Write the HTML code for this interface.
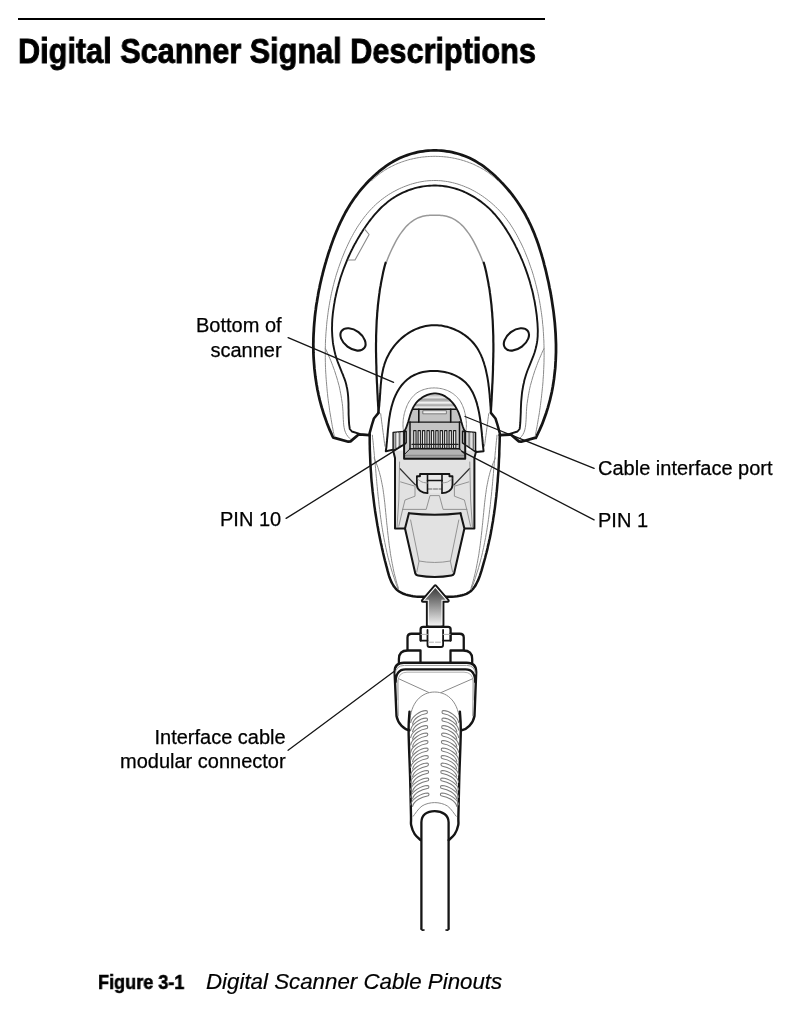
<!DOCTYPE html>
<html><head><meta charset="utf-8">
<style>
html,body{margin:0;padding:0;background:#fff;}
.lbl,.cap,.h1{will-change:transform;}
body{width:800px;height:1009px;position:relative;overflow:hidden;font-family:"Liberation Sans",sans-serif;color:#000;}
.rule{position:absolute;left:17.5px;top:17.5px;width:527.5px;height:2.5px;background:#000;}
.h1{position:absolute;left:17.6px;top:33.0px;transform:scaleX(0.876);-webkit-text-stroke:0.9px #000;white-space:nowrap;font-weight:bold;font-size:35px;line-height:1;transform-origin:0 0;}
.lbl{position:absolute;font-size:20px;-webkit-text-stroke:0.25px #000;line-height:1;white-space:nowrap;}
.r{text-align:right;}
svg{position:absolute;left:0;top:0;}
.cap{position:absolute;white-space:nowrap;line-height:1;}
</style></head><body>
<div class="rule"></div>
<div class="h1" id="h1">Digital Scanner Signal Descriptions</div>
<div class="lbl r" id="l1" style="right:518px;top:312.8px;line-height:25px;">Bottom of<br>scanner</div>
<div class="lbl" id="l2" style="left:598px;top:457.7px;">Cable interface port</div>
<div class="lbl" id="l3" style="left:598px;top:510.3px;">PIN 1</div>
<div class="lbl r" id="l4" style="right:519.2px;top:508.6px;">PIN 10</div>
<div class="lbl r" id="l5" style="right:514px;top:724.8px;line-height:24.4px;">Interface cable<br>modular connector</div>
<div class="cap" id="c1" style="left:98px;top:972.8px;font-weight:bold;font-size:19.5px;transform-origin:0 0;transform:scaleX(0.928);-webkit-text-stroke:0.55px #000;">Figure 3-1</div>
<div class="cap" id="c2" style="left:206px;top:970.6px;font-style:italic;font-size:22.3px;-webkit-text-stroke:0.2px #000;">Digital Scanner Cable Pinouts</div>
<svg width="800" height="1009" viewBox="0 0 800 1009" stroke-linejoin="round" stroke-linecap="round">
<defs><linearGradient id="ag" x1="0" y1="0" x2="0" y2="1"><stop offset="0" stop-color="#3c3c3c"/><stop offset="1" stop-color="#f2f2f2"/></linearGradient></defs>
<path d="M369.6 435.1 L358.6 434.5 L350.5 441.4 L348.3 441.7 L333.6 437.6 L333.3 437.7 L332.1 435.3 L331 432.8 L329.9 430.4 L328.9 427.9 L327.9 425.4 L326.9 422.9 L326 420.4 L325.1 417.8 L324.2 415.3 L323.4 412.8 L322.6 410.2 L321.8 407.7 L321.1 405.1 L320.4 402.5 L319.7 399.9 L319.1 397.3 L318.5 394.7 L318 392.1 L317.4 389.5 L317 386.9 L316.5 384.3 L316.1 381.6 L315.7 379 L315.3 376.3 L315 373.7 L314.7 371 L314.4 368.4 L314.2 365.7 L314 363.1 L313.8 360.4 L313.6 357.7 L313.5 355 L313.4 352.4 L313.4 349.7 L313.4 347 L313.3 344.3 L313.4 341.6 L313.4 338.9 L313.5 336.2 L313.6 333.6 L313.8 330.9 L313.9 328.2 L314.1 325.5 L314.3 322.8 L314.6 320.1 L314.8 317.4 L315.1 314.7 L315.4 312.1 L315.8 309.4 L316.1 306.7 L316.5 304 L317 301.4 L317.4 298.7 L317.9 296 L318.3 293.4 L318.8 290.7 L319.4 288.1 L319.9 285.4 L320.5 282.8 L321.1 280.2 L321.7 277.5 L322.4 274.9 L323 272.3 L323.7 269.7 L324.4 267.1 L325.1 264.5 L325.9 261.9 L326.6 259.3 L327.4 256.8 L328.2 254.2 L329 251.7 L329.9 249.1 L330.7 246.6 L331.6 244.1 L332.5 241.6 L333.4 239.1 L334.4 236.6 L335.4 234.1 L336.4 231.6 L337.4 229.2 L338.4 226.8 L339.5 224.4 L340.6 222 L341.8 219.6 L343 217.2 L344.2 214.9 L345.4 212.5 L346.7 210.2 L348.1 207.9 L349.4 205.7 L350.8 203.4 L352.3 201.2 L353.8 199 L355.4 196.8 L357 194.7 L358.6 192.5 L360.3 190.4 L362 188.4 L363.8 186.3 L365.6 184.3 L367.5 182.3 L369.4 180.3 L371.3 178.4 L373.3 176.5 L375.3 174.7 L377.4 172.9 L379.4 171.1 L381.6 169.4 L383.7 167.8 L385.9 166.2 L388.1 164.7 L390.4 163.2 L392.7 161.8 L395 160.5 L397.4 159.3 L399.8 158.1 L402.3 157 L404.8 156 L407.3 155.1 L409.8 154.3 L412.4 153.5 L415 152.8 L417.6 152.2 L420.2 151.7 L422.8 151.3 L425.5 150.9 L428.1 150.6 L430.8 150.5 L433.4 150.4 L436.1 150.4 L438.7 150.5 L441.4 150.6 L444 150.9 L446.7 151.3 L449.3 151.7 L451.9 152.2 L454.5 152.8 L457.1 153.5 L459.7 154.3 L462.2 155.1 L464.7 156 L467.2 157.1 L469.6 158.1 L472 159.3 L474.4 160.5 L476.7 161.9 L479 163.3 L481.2 164.7 L483.4 166.2 L485.5 167.8 L487.7 169.5 L489.7 171.2 L491.8 173 L493.8 174.8 L495.8 176.6 L497.7 178.5 L499.6 180.4 L501.5 182.4 L503.4 184.3 L505.2 186.3 L507 188.4 L508.8 190.5 L510.5 192.5 L512.2 194.7 L513.8 196.8 L515.4 199 L517 201.2 L518.5 203.4 L520 205.7 L521.4 207.9 L522.8 210.2 L524.2 212.5 L525.5 214.8 L526.7 217.2 L528 219.5 L529.1 221.9 L530.3 224.3 L531.4 226.7 L532.4 229.1 L533.5 231.6 L534.5 234 L535.4 236.5 L536.4 239 L537.3 241.5 L538.2 244 L539 246.5 L539.8 249.1 L540.6 251.6 L541.4 254.2 L542.1 256.7 L542.9 259.3 L543.6 261.9 L544.2 264.5 L544.9 267.1 L545.6 269.7 L546.2 272.3 L546.8 275 L547.4 277.6 L548 280.2 L548.6 282.8 L549.1 285.5 L549.6 288.1 L550.2 290.8 L550.7 293.4 L551.1 296.1 L551.6 298.8 L552 301.4 L552.4 304.1 L552.8 306.8 L553.2 309.4 L553.6 312.1 L553.9 314.8 L554.2 317.5 L554.5 320.2 L554.8 322.8 L555 325.5 L555.2 328.2 L555.4 330.9 L555.6 333.6 L555.7 336.3 L555.8 339 L555.9 341.6 L556 344.3 L556 347 L556 349.7 L556 352.4 L555.9 355 L555.8 357.7 L555.7 360.4 L555.5 363 L555.4 365.7 L555.2 368.4 L554.9 371 L554.6 373.7 L554.3 376.3 L554 379 L553.6 381.6 L553.2 384.2 L552.8 386.8 L552.3 389.5 L551.8 392.1 L551.2 394.7 L550.6 397.3 L550 399.9 L549.3 402.5 L548.6 405 L547.9 407.6 L547.1 410.2 L546.3 412.7 L545.4 415.3 L544.5 417.8 L543.6 420.3 L542.6 422.9 L541.6 425.4 L540.5 427.9 L539.4 430.4 L538.2 432.8 L537 435.3 L535.8 437.8 L535.8 437.6 L521.1 441.7 L518.9 441.4 L510.8 434.5 L499.8 435.1" fill="none" stroke="#151515" stroke-width="2.75" />
<path d="M371.2 181 L372.3 179.9 L373.5 178.9 L374.6 177.8 L375.8 176.8 L377 175.8 L378.2 174.8 L379.5 173.9 L380.7 172.9 L382 172 L383.3 171.2 L384.6 170.3 L385.9 169.5 L387.3 168.7 L388.6 167.9 L390 167.2 L391.4 166.5 L392.8 165.8 L394.2 165.1 L395.6 164.4 L397 163.8 L398.5 163.2 L399.9 162.7 L401.4 162.1 L402.9 161.6 L404.4 161.1 L405.9 160.6 L407.4 160.2 L408.9 159.7 L410.4 159.3 L412 159 L413.5 158.6 L415 158.3 L416.6 158 L418.1 157.7 L419.7 157.5 L421.3 157.2 L422.8 157 L424.4 156.9 L426 156.7 L427.6 156.6 L429.2 156.5 L430.7 156.4 L432.3 156.4 L433.9 156.3 L435.5 156.3 L437.1 156.4 L438.7 156.4 L440.2 156.5 L441.8 156.6 L443.4 156.7 L445 156.9 L446.6 157 L448.1 157.2 L449.7 157.5 L451.3 157.7 L452.8 158 L454.4 158.3 L455.9 158.6 L457.4 159 L459 159.3 L460.5 159.7 L462 160.2 L463.5 160.6 L465 161.1 L466.5 161.6 L468 162.1 L469.5 162.7 L470.9 163.2 L472.4 163.8 L473.8 164.4 L475.2 165.1 L476.6 165.8 L478 166.5 L479.4 167.2 L480.8 167.9 L482.1 168.7 L483.5 169.5 L484.8 170.3 L486.1 171.2 L487.4 172 L488.7 172.9 L489.9 173.9 L491.2 174.8 L492.4 175.8 L493.6 176.8 L494.8 177.8 L495.9 178.9 L497.1 179.9 L498.2 181" fill="none" stroke="#8a8a8a" stroke-width="1" />
<path d="M334.3 436.2 L333.8 433.8 L333.3 431.5 L332.9 429.1 L332.4 426.8 L332 424.4 L331.6 422.1 L331.2 419.7 L330.8 417.4 L330.4 415 L330 412.6 L329.6 410.3 L329.3 407.9 L329 405.5 L328.6 403.2 L328.3 400.8 L328 398.4 L327.7 396 L327.5 393.6 L327.2 391.2 L327 388.8 L326.8 386.5 L326.6 384.1 L326.4 381.7 L326.2 379.3 L326 376.9 L325.9 374.5 L325.7 372.1 L325.6 369.7 L325.5 367.3 L325.4 364.9 L325.4 362.5 L325.3 360.1 L325.3 357.7 L325.3 355.3 L325.3 352.9 L325.3 350.5 L325.3 348.1 L325.4 345.7 L325.4 343.3 L325.5 341 L325.6 338.6 L325.8 336.2 L325.9 333.8 L326.1 331.4 L326.3 329 L326.5 326.7 L326.7 324.3 L326.9 321.9 L327.2 319.6 L327.5 317.2 L327.8 314.8 L328.1 312.5 L328.4 310.1 L328.8 307.8 L329.2 305.4 L329.6 303.1 L330 300.7 L330.5 298.4 L330.9 296.1 L331.4 293.7 L331.9 291.4 L332.5 289.1 L333 286.8 L333.6 284.5 L334.2 282.2 L334.8 279.9 L335.5 277.6 L336.1 275.3 L336.8 273.1 L337.6 270.8 L338.3 268.5 L339.1 266.3 L339.9 264 L340.7 261.8 L341.5 259.5 L342.4 257.3 L343.3 255.1 L344.2 252.9 L345.1 250.7 L346.1 248.5 L347.1 246.3 L348.1 244.1 L349.2 241.9 L350.2 239.8 L351.3 237.6 L352.5 235.5 L353.6 233.4 L354.8 231.3 L356.1 229.2 L357.3 227.2 L358.6 225.2 L360 223.2 L361.3 221.2 L362.7 219.3 L364.2 217.3 L365.6 215.5 L367.2 213.6 L368.7 211.8 L370.3 210 L372 208.3 L373.6 206.6 L375.4 204.9 L377.1 203.3 L379 201.8 L380.8 200.2 L382.7 198.8 L384.7 197.3 L386.6 196 L388.6 194.6 L390.7 193.4 L392.8 192.1 L394.9 191 L397 189.9 L399.2 188.8 L401.4 187.8 L403.6 186.9 L405.9 186 L408.1 185.2 L410.4 184.4 L412.7 183.7 L415 183.1 L417.3 182.5 L419.7 182 L422 181.6 L424.3 181.2 L426.7 180.9 L429 180.7 L431.4 180.6 L433.7 180.5 L436.1 180.5 L438.4 180.6 L440.8 180.7 L443.1 181 L445.4 181.3 L447.7 181.6 L450 182.1 L452.3 182.6 L454.6 183.2 L456.9 183.8 L459.1 184.5 L461.3 185.3 L463.6 186.1 L465.7 187 L467.9 187.9 L470.1 188.9 L472.2 190 L474.3 191.1 L476.4 192.3 L478.4 193.5 L480.5 194.8 L482.4 196.1 L484.4 197.5 L486.3 198.9 L488.2 200.4 L490.1 201.9 L491.9 203.4 L493.7 205 L495.5 206.7 L497.2 208.4 L498.9 210.1 L500.5 211.8 L502.1 213.6 L503.7 215.5 L505.2 217.3 L506.6 219.2 L508.1 221.2 L509.5 223.1 L510.8 225.1 L512.1 227.1 L513.4 229.2 L514.6 231.2 L515.8 233.3 L517 235.4 L518.1 237.5 L519.2 239.7 L520.3 241.8 L521.4 244 L522.4 246.1 L523.4 248.3 L524.4 250.5 L525.3 252.7 L526.2 255 L527.1 257.2 L528 259.4 L528.8 261.7 L529.6 264 L530.4 266.2 L531.2 268.5 L532 270.8 L532.7 273.1 L533.4 275.3 L534 277.6 L534.7 279.9 L535.3 282.2 L535.9 284.6 L536.5 286.9 L537 289.2 L537.6 291.5 L538.1 293.8 L538.6 296.2 L539 298.5 L539.5 300.8 L539.9 303.2 L540.3 305.5 L540.7 307.9 L541 310.2 L541.4 312.6 L541.7 314.9 L542 317.3 L542.3 319.6 L542.5 322 L542.7 324.4 L543 326.7 L543.2 329.1 L543.3 331.5 L543.5 333.9 L543.6 336.2 L543.7 338.6 L543.9 341 L543.9 343.4 L544 345.8 L544 348.1 L544.1 350.5 L544.1 352.9 L544.1 355.3 L544.1 357.7 L544 360.1 L544 362.5 L543.9 364.9 L543.8 367.2 L543.7 369.6 L543.6 372 L543.5 374.4 L543.3 376.8 L543.1 379.2 L543 381.6 L542.8 384 L542.6 386.4 L542.3 388.8 L542.1 391.1 L541.8 393.5 L541.6 395.9 L541.3 398.3 L541 400.7 L540.7 403.1 L540.4 405.5 L540.1 407.8 L539.7 410.2 L539.4 412.6 L539 415 L538.6 417.3 L538.2 419.7 L537.8 422.1 L537.4 424.4 L537 426.8 L536.5 429.2 L536.1 431.5 L535.6 433.9 L535.2 436.2" fill="none" stroke="#8a8a8a" stroke-width="1" />
<path d="M325.4 348.6 L326.6 351 L327.7 353.4 L328.7 355.9 L329.8 358.3 L330.8 360.7 L331.8 363.2 L332.7 365.6 L333.6 368.1 L334.5 370.5 L335.3 373 L336.1 375.5 L336.9 378 L337.6 380.5 L338.3 383 L339 385.5 L339.6 388.1 L340.1 390.6 L340.6 393.2 L341.1 395.8 L341.5 398.4 L341.9 401 L342.3 403.6 L342.6 406.2 L342.8 408.9 L343 411.5 L343.1 414.2 L343.2 416.9 L343.3 419.6 L343.5 422.3 L343.7 424.9 L344.1 427.5 L344.6 429.9 L345.4 432.3 L346.5 434.5 L348 436.6 L349.9 438.5" fill="none" stroke="#8a8a8a" stroke-width="1" />
<path d="M544 348.6 L542.8 351 L541.7 353.4 L540.7 355.9 L539.6 358.3 L538.6 360.7 L537.6 363.2 L536.7 365.6 L535.8 368.1 L534.9 370.5 L534.1 373 L533.3 375.5 L532.5 378 L531.8 380.5 L531.1 383 L530.4 385.5 L529.8 388.1 L529.3 390.6 L528.8 393.2 L528.3 395.8 L527.9 398.4 L527.5 401 L527.1 403.6 L526.8 406.2 L526.6 408.9 L526.4 411.5 L526.3 414.2 L526.2 416.9 L526.1 419.6 L525.9 422.3 L525.7 424.9 L525.3 427.5 L524.8 429.9 L524 432.3 L522.9 434.5 L521.4 436.6 L519.5 438.5" fill="none" stroke="#8a8a8a" stroke-width="1" />
<path d="M369.6 435.3 L360.4 434.1 L351.9 431.5 L349.8 429 L349.8 429 L349.5 426.9 L349.2 424.8 L349 422.7 L348.9 420.6 L348.8 418.5 L348.7 416.3 L348.6 414.2 L348.6 412.1 L348.6 409.9 L348.5 407.8 L348.5 405.7 L348.5 403.5 L348.4 401.4 L348.3 399.3 L348.2 397.1 L348 395 L347.8 392.9 L347.5 390.8 L347.2 388.8 L346.7 386.7 L346.3 384.7 L345.7 382.6 L345.1 380.6 L344.4 378.6 L343.6 376.6 L342.9 374.6 L342 372.6 L341.2 370.7 L340.4 368.7 L339.6 366.7 L338.8 364.7 L338 362.7 L337.3 360.7 L336.6 358.7 L336 356.7 L335.4 354.7 L334.9 352.7 L334.4 350.6 L334 348.6 L333.6 346.5 L333.2 344.5 L332.9 342.4 L332.7 340.3 L332.5 338.2 L332.3 336.1 L332.2 334.1 L332.1 332 L332 329.9 L332 327.8 L332.1 325.7 L332.1 323.6 L332.2 321.5 L332.3 319.4 L332.5 317.2 L332.7 315.1 L332.9 313 L333.2 310.9 L333.5 308.8 L333.8 306.7 L334.1 304.6 L334.5 302.5 L334.8 300.5 L335.2 298.4 L335.7 296.3 L336.1 294.2 L336.6 292.2 L337.1 290.1 L337.6 288 L338.2 286 L338.7 283.9 L339.3 281.9 L339.9 279.9 L340.5 277.8 L341.2 275.8 L341.9 273.8 L342.6 271.8 L343.3 269.8 L344 267.8 L344.8 265.8 L345.6 263.8 L346.4 261.9 L347.2 259.9 L348 258 L348.9 256 L349.8 254.1 L350.7 252.2 L351.6 250.3 L352.6 248.4 L353.5 246.5 L354.5 244.6 L355.6 242.8 L356.6 240.9 L357.6 239.1 L358.7 237.2 L359.8 235.4 L360.9 233.6 L362.1 231.8 L363.2 230 L364.4 228.3 L365.6 226.5 L366.8 224.8 L368.1 223 L369.3 221.3 L370.6 219.6 L371.9 218 L373.2 216.3 L374.6 214.7 L376 213.1 L377.4 211.6 L378.9 210 L380.3 208.5 L381.8 207 L383.4 205.6 L385 204.2 L386.6 202.9 L388.2 201.5 L389.9 200.3 L391.6 199 L393.4 197.9 L395.2 196.7 L397 195.6 L398.9 194.6 L400.8 193.6 L402.7 192.7 L404.7 191.8 L406.7 191 L408.7 190.2 L410.7 189.5 L412.8 188.8 L414.8 188.2 L416.9 187.7 L419 187.2 L421.1 186.8 L423.2 186.4 L425.3 186.1 L427.4 185.9 L429.6 185.7 L431.7 185.6 L433.8 185.5 L435.9 185.5 L438 185.6 L440.1 185.7 L442.2 185.9 L444.3 186.2 L446.4 186.5 L448.5 186.9 L450.5 187.4 L452.6 187.9 L454.6 188.4 L456.6 189 L458.6 189.7 L460.6 190.4 L462.6 191.2 L464.5 192 L466.4 192.9 L468.3 193.8 L470.2 194.8 L472 195.8 L473.9 196.9 L475.7 198 L477.5 199.2 L479.2 200.4 L480.9 201.6 L482.6 202.9 L484.3 204.2 L485.9 205.6 L487.5 207 L489.1 208.4 L490.6 209.9 L492.1 211.4 L493.5 213 L495 214.5 L496.3 216.2 L497.7 217.8 L499 219.4 L500.3 221.1 L501.6 222.8 L502.8 224.6 L504 226.3 L505.2 228.1 L506.4 229.9 L507.5 231.7 L508.6 233.5 L509.7 235.3 L510.8 237.2 L511.8 239 L512.9 240.9 L513.9 242.8 L514.9 244.7 L515.8 246.6 L516.8 248.5 L517.7 250.4 L518.6 252.3 L519.5 254.2 L520.4 256.1 L521.2 258.1 L522.1 260 L522.9 262 L523.7 264 L524.4 265.9 L525.2 267.9 L525.9 269.9 L526.6 271.9 L527.3 273.9 L528 275.9 L528.6 277.9 L529.3 279.9 L529.9 281.9 L530.4 284 L531 286 L531.5 288 L532.1 290.1 L532.6 292.1 L533.1 294.2 L533.5 296.3 L533.9 298.3 L534.4 300.4 L534.8 302.5 L535.1 304.6 L535.5 306.7 L535.8 308.8 L536.1 310.9 L536.4 313 L536.7 315.1 L536.9 317.2 L537.1 319.3 L537.3 321.4 L537.5 323.6 L537.6 325.7 L537.7 327.8 L537.8 329.9 L537.8 332 L537.7 334.1 L537.7 336.2 L537.5 338.3 L537.3 340.4 L537 342.5 L536.6 344.6 L536.2 346.6 L535.7 348.6 L535.1 350.7 L534.5 352.7 L533.8 354.7 L533.1 356.7 L532.3 358.6 L531.5 360.6 L530.7 362.6 L529.9 364.6 L529.1 366.6 L528.3 368.5 L527.5 370.5 L526.8 372.5 L526.1 374.5 L525.5 376.6 L524.9 378.6 L524.3 380.6 L523.9 382.7 L523.4 384.7 L523 386.8 L522.7 388.8 L522.3 390.9 L522 393 L521.8 395.1 L521.6 397.2 L521.4 399.3 L521.2 401.4 L521.1 403.5 L521 405.7 L520.9 407.8 L520.8 409.9 L520.8 412.1 L520.7 414.2 L520.6 416.3 L520.5 418.4 L520.4 420.6 L520.3 422.7 L520.1 424.8 L519.9 426.9 L519.6 429 L519.6 429 L517.5 431.5 L509 434.1 L499.8 435.3" fill="none" stroke="#151515" stroke-width="1.9" />
<path d="M364.6 229.1 L369.1 234.5 L355 260 L348.2 260" fill="none" stroke="#8a8a8a" stroke-width="1.1" />
<ellipse cx="353" cy="339.4" rx="14.2" ry="9.1" transform="rotate(37 353 339.4)" fill="none" stroke="#151515" stroke-width="2.1"/>
<ellipse cx="516.4" cy="339.4" rx="14.2" ry="9.1" transform="rotate(-37 516.4 339.4)" fill="none" stroke="#151515" stroke-width="2.1"/>
<path d="M385.9 263.5 L387.3 259.8 L388.7 256.3 L390.1 253 L391.6 249.8 L393 246.9 L394.4 244.1 L395.8 241.4 L397.2 238.9 L398.6 236.6 L400 234.4 L401.5 232.4 L402.9 230.5 L404.3 228.7 L405.7 227.1 L407.1 225.6 L408.5 224.2 L409.9 223 L411.4 221.8 L412.8 220.8 L414.2 219.9 L415.6 219.1 L417 218.4 L418.4 217.7 L419.8 217.2 L421.3 216.7 L422.7 216.3 L424.1 216 L425.5 215.8 L426.9 215.6 L428.3 215.4 L429.7 215.3 L431.2 215.3 L432.6 215.2 L434 215.2 L435.4 215.2 L436.8 215.2 L438.2 215.3 L439.7 215.3 L441.1 215.4 L442.5 215.6 L443.9 215.8 L445.3 216 L446.7 216.3 L448.1 216.7 L449.6 217.2 L451 217.7 L452.4 218.4 L453.8 219.1 L455.2 219.9 L456.6 220.8 L458 221.8 L459.5 223 L460.9 224.2 L462.3 225.6 L463.7 227.1 L465.1 228.7 L466.5 230.5 L467.9 232.4 L469.4 234.4 L470.8 236.6 L472.2 238.9 L473.6 241.4 L475 244.1 L476.4 246.9 L477.8 249.8 L479.3 253 L480.7 256.3 L482.1 259.8 L483.5 263.5" fill="none" stroke="#999" stroke-width="1.5" />
<path d="M385.6 262.7 L384.9 265.2 L384.3 267.6 L383.7 270.1 L383.1 272.6 L382.6 275.1 L382.1 277.6 L381.6 280.1 L381.1 282.6 L380.7 285.2 L380.2 287.7 L379.8 290.2 L379.5 292.7 L379.1 295.3 L378.8 297.8 L378.5 300.3 L378.2 302.9 L377.9 305.4 L377.7 308 L377.5 310.5 L377.2 313.1 L377.1 315.6 L376.9 318.2 L376.7 320.7 L376.6 323.3 L376.5 325.8 L376.4 328.4 L376.3 331 L376.2 333.5 L376.1 336.1 L376.1 338.7 L376.1 341.2 L376 343.8 L376 346.4 L376 348.9 L376 351.5 L376.1 354.1 L376.1 356.6 L376.2 359.2 L376.2 361.8 L376.3 364.3 L376.4 366.9 L376.4 369.5 L376.5 372 L376.6 374.6 L376.7 377.2 L376.8 379.7 L376.9 382.3 L377.1 384.8 L377.2 387.4 L377.3 390 L377.4 392.5 L377.6 395.1 L377.7 397.6 L377.8 400.2 L378 402.7 L378.1 405.2 L378.3 407.8 L378.4 410.3 L378.5 412.9" fill="none" stroke="#151515" stroke-width="2.2" />
<path d="M483.8 262.7 L484.5 265.2 L485.1 267.6 L485.7 270.1 L486.3 272.6 L486.8 275.1 L487.3 277.6 L487.8 280.1 L488.3 282.6 L488.7 285.2 L489.2 287.7 L489.6 290.2 L489.9 292.7 L490.3 295.3 L490.6 297.8 L490.9 300.3 L491.2 302.9 L491.5 305.4 L491.7 308 L491.9 310.5 L492.2 313.1 L492.3 315.6 L492.5 318.2 L492.7 320.7 L492.8 323.3 L492.9 325.8 L493 328.4 L493.1 331 L493.2 333.5 L493.3 336.1 L493.3 338.7 L493.3 341.2 L493.4 343.8 L493.4 346.4 L493.4 348.9 L493.4 351.5 L493.3 354.1 L493.3 356.6 L493.2 359.2 L493.2 361.8 L493.1 364.3 L493 366.9 L493 369.5 L492.9 372 L492.8 374.6 L492.7 377.2 L492.6 379.7 L492.5 382.3 L492.3 384.8 L492.2 387.4 L492.1 390 L492 392.5 L491.8 395.1 L491.7 397.6 L491.6 400.2 L491.4 402.7 L491.3 405.2 L491.1 407.8 L491 410.3 L490.9 412.9" fill="none" stroke="#151515" stroke-width="2.2" />
<path d="M378.5 412.9 L373.9 418.5 L371.9 424.8 L369.5 433.6 L369.7 433.5 L369.7 436.1 L369.7 438.6 L369.7 441.2 L369.7 443.7 L369.8 446.2 L369.8 448.7 L369.9 451.3 L370 453.8 L370.1 456.3 L370.2 458.8 L370.3 461.3 L370.4 463.8 L370.6 466.3 L370.7 468.8 L370.9 471.3 L371.1 473.8 L371.2 476.3 L371.4 478.8 L371.6 481.3 L371.9 483.8 L372.1 486.3 L372.4 488.8 L372.6 491.2 L372.9 493.7 L373.2 496.2 L373.5 498.7 L373.8 501.1 L374.1 503.6 L374.4 506.1 L374.8 508.6 L375.1 511 L375.5 513.5 L375.9 516 L376.3 518.4 L376.7 520.9 L377.1 523.4 L377.5 525.8 L378 528.3 L378.4 530.8 L378.9 533.3 L379.4 535.7 L379.9 538.2 L380.4 540.7 L380.9 543.1 L381.5 545.6 L382 548.1 L382.6 550.6 L383.1 553 L383.7 555.5 L384.3 558 L384.9 560.5 L385.6 563 L386.2 565.4 L386.9 567.9 L387.5 570.4 L388.2 572.9 L388.9 575.4 L389.7 577.8 L390.6 580.1 L391.6 582.4 L392.8 584.5 L394 586.5 L395.5 588.3 L397.2 590 L399.1 591.5 L401.2 592.7 L403.5 593.8 L405.9 594.6 L408.3 595.3 L410.7 595.8 L413 596.2 L415.4 596.5 L417.9 596.7 L420.3 596.8 L422.8 596.8 L425.3 596.8 L427.8 596.8 L430.4 596.7 L433 596.7 L435.7 596.7 L438.4 596.7 L441.1 596.8 L443.8 596.8 L446.6 596.8 L449.3 596.8 L452 596.7 L454.6 596.5 L457.2 596.2 L459.7 595.8 L462.1 595.3 L464.3 594.6 L466.5 593.8 L468.5 592.7 L470.3 591.5 L471.9 590 L473.4 588.3 L474.8 586.5 L476 584.5 L477.1 582.3 L478.2 580.1 L479.1 577.8 L480 575.3 L480.8 572.9 L481.6 570.4 L482.3 567.9 L483 565.4 L483.7 562.9 L484.4 560.5 L485.1 558 L485.7 555.5 L486.4 553 L487 550.6 L487.6 548.1 L488.1 545.6 L488.7 543.1 L489.2 540.7 L489.8 538.2 L490.3 535.7 L490.8 533.3 L491.2 530.8 L491.7 528.3 L492.1 525.9 L492.5 523.4 L493 520.9 L493.3 518.4 L493.7 516 L494.1 513.5 L494.4 511 L494.8 508.6 L495.1 506.1 L495.4 503.6 L495.7 501.2 L496 498.7 L496.3 496.2 L496.5 493.7 L496.8 491.2 L497 488.8 L497.2 486.3 L497.4 483.8 L497.7 481.3 L497.8 478.8 L498 476.3 L498.2 473.8 L498.4 471.3 L498.5 468.8 L498.7 466.3 L498.8 463.8 L498.9 461.3 L499 458.8 L499.2 456.3 L499.3 453.8 L499.3 451.3 L499.4 448.7 L499.5 446.2 L499.6 443.7 L499.7 441.2 L499.7 438.6 L499.8 436.1 L499.8 433.5 L499.9 433.6 L497.5 424.8 L495.5 418.5 L490.9 412.9" fill="none" stroke="#151515" stroke-width="2.5" />
<path d="M378.3 412.8 L378.6 410.9 L378.8 409.1 L379.1 407.2 L379.3 405.4 L379.4 403.5 L379.6 401.5 L379.8 399.6 L379.9 397.6 L380 395.7 L380.2 393.7 L380.3 391.7 L380.4 389.7 L380.6 387.7 L380.7 385.7 L380.9 383.7 L381.1 381.7 L381.3 379.7 L381.6 377.7 L381.9 375.7 L382.2 373.7 L382.6 371.8 L383 369.8 L383.4 367.9 L384 366 L384.5 364.1 L385.2 362.2 L385.9 360.4 L386.6 358.5 L387.5 356.7 L388.4 355 L389.3 353.2 L390.3 351.6 L391.4 349.9 L392.5 348.3 L393.7 346.7 L394.9 345.1 L396.2 343.6 L397.5 342.2 L398.9 340.8 L400.3 339.4 L401.7 338.1 L403.2 336.9 L404.8 335.6 L406.4 334.5 L408 333.4 L409.6 332.4 L411.3 331.4 L413 330.5 L414.7 329.7 L416.5 328.9 L418.3 328.2 L420.1 327.5 L422 327 L423.8 326.5 L425.7 326.1 L427.6 325.7 L429.5 325.5 L431.4 325.3 L433.4 325.2 L435.3 325.2 L437.3 325.2 L439.2 325.4 L441.2 325.6 L443.2 326 L445.1 326.4 L447.1 326.8 L449 327.4 L450.9 328 L452.8 328.7 L454.7 329.5 L456.5 330.3 L458.3 331.2 L460.1 332.2 L461.8 333.2 L463.5 334.3 L465.1 335.4 L466.7 336.6 L468.3 337.9 L469.8 339.2 L471.2 340.6 L472.5 342 L473.8 343.5 L475.1 345.1 L476.2 346.6 L477.3 348.3 L478.3 349.9 L479.2 351.6 L480.1 353.4 L481 355.1 L481.7 356.9 L482.5 358.7 L483.1 360.6 L483.8 362.4 L484.3 364.3 L484.9 366.2 L485.4 368.1 L485.9 370 L486.3 372 L486.7 373.9 L487.1 375.8 L487.5 377.8 L487.8 379.7 L488.1 381.7 L488.4 383.7 L488.6 385.6 L488.9 387.6 L489.1 389.6 L489.3 391.6 L489.5 393.5 L489.7 395.5 L489.8 397.4 L490 399.4 L490.1 401.3 L490.3 403.3 L490.4 405.2 L490.6 407.1 L490.7 409 L490.9 410.9 L491 412.8" fill="none" stroke="#151515" stroke-width="2" />
<path d="M372.4 435.2 L372.6 437.8 L372.9 440.3 L373.2 442.9 L373.4 445.4 L373.7 448 L373.9 450.5 L374.2 453.1 L374.4 455.6 L374.6 458.2 L374.9 460.8 L375.1 463.3 L375.3 465.9 L375.6 468.5 L375.8 471 L376 473.6 L376.2 476.2 L376.5 478.7 L376.7 481.3 L376.9 483.9 L377.2 486.4 L377.4 489 L377.7 491.6 L377.9 494.1 L378.2 496.7 L378.5 499.2 L378.8 501.8 L379 504.4 L379.3 506.9 L379.7 509.5 L380 512 L380.3 514.6 L380.6 517.1 L381 519.7 L381.3 522.2 L381.7 524.8 L382.1 527.3 L382.5 529.9 L382.9 532.4 L383.4 534.9 L383.8 537.5 L384.3 540 L384.8 542.5 L385.3 545 L385.8 547.5 L386.4 550.1 L386.9 552.6 L387.5 555.1 L388.1 557.6 L388.8 560.1 L389.4 562.5 L390.1 565 L390.8 567.5 L391.5 570 L392.3 572.4 L393.1 574.9 L393.9 577.4 L394.7 579.8 L395.6 582.3 L396.4 584.7 L397.4 587.1 L398.3 589.5" fill="none" stroke="#8a8a8a" stroke-width="1" />
<path d="M497 435.2 L496.8 437.8 L496.5 440.3 L496.2 442.9 L496 445.4 L495.7 448 L495.5 450.5 L495.2 453.1 L495 455.6 L494.8 458.2 L494.5 460.8 L494.3 463.3 L494.1 465.9 L493.8 468.5 L493.6 471 L493.4 473.6 L493.2 476.2 L492.9 478.7 L492.7 481.3 L492.5 483.9 L492.2 486.4 L492 489 L491.7 491.6 L491.5 494.1 L491.2 496.7 L490.9 499.2 L490.6 501.8 L490.4 504.4 L490.1 506.9 L489.7 509.5 L489.4 512 L489.1 514.6 L488.8 517.1 L488.4 519.7 L488.1 522.2 L487.7 524.8 L487.3 527.3 L486.9 529.9 L486.5 532.4 L486 534.9 L485.6 537.5 L485.1 540 L484.6 542.5 L484.1 545 L483.6 547.5 L483 550.1 L482.5 552.6 L481.9 555.1 L481.3 557.6 L480.6 560.1 L480 562.5 L479.3 565 L478.6 567.5 L477.9 570 L477.1 572.4 L476.3 574.9 L475.5 577.4 L474.7 579.8 L473.8 582.3 L473 584.7 L472 587.1 L471.1 589.5" fill="none" stroke="#8a8a8a" stroke-width="1" />
<path d="M374.1 458 L375.1 460.3 L376.1 462.7 L377 465.1 L377.9 467.5 L378.6 469.9 L379.4 472.3 L380 474.8 L380.7 477.3 L381.2 479.7 L381.7 482.2 L382.2 484.7 L382.7 487.2 L383.1 489.7 L383.4 492.2 L383.8 494.7 L384.1 497.3 L384.4 499.8 L384.7 502.3 L385 504.9 L385.2 507.4 L385.5 510 L385.7 512.5 L386 515.1 L386.2 517.6 L386.5 520.2 L386.7 522.8 L387 525.3 L387.3 527.9 L387.5 530.4 L387.8 533 L388.1 535.5 L388.4 538.1 L388.7 540.6 L389 543.2 L389.3 545.7 L389.7 548.3 L390.1 550.8 L390.4 553.3 L390.8 555.9 L391.3 558.4 L391.7 560.9 L392.2 563.4 L392.7 565.9 L393.2 568.5 L393.7 571 L394.3 573.4 L394.9 575.9 L395.6 578.4 L396.2 580.9 L396.9 583.4 L397.7 585.8 L398.4 588.3" fill="none" stroke="#8a8a8a" stroke-width="1" />
<path d="M495.3 458 L494.3 460.3 L493.3 462.7 L492.4 465.1 L491.5 467.5 L490.8 469.9 L490 472.3 L489.4 474.8 L488.7 477.3 L488.2 479.7 L487.7 482.2 L487.2 484.7 L486.7 487.2 L486.3 489.7 L486 492.2 L485.6 494.7 L485.3 497.3 L485 499.8 L484.7 502.3 L484.4 504.9 L484.2 507.4 L483.9 510 L483.7 512.5 L483.4 515.1 L483.2 517.6 L482.9 520.2 L482.7 522.8 L482.4 525.3 L482.1 527.9 L481.9 530.4 L481.6 533 L481.3 535.5 L481 538.1 L480.7 540.6 L480.4 543.2 L480.1 545.7 L479.7 548.3 L479.3 550.8 L479 553.3 L478.6 555.9 L478.1 558.4 L477.7 560.9 L477.2 563.4 L476.7 565.9 L476.2 568.5 L475.7 571 L475.1 573.4 L474.5 575.9 L473.8 578.4 L473.2 580.9 L472.5 583.4 L471.7 585.8 L471 588.3" fill="none" stroke="#8a8a8a" stroke-width="1" />
<path d="M380.7 413.7 L381 416.4 L381.4 419.1 L381.7 421.9 L382.1 424.6 L382.4 427.3 L382.8 430 L383.1 432.7 L383.5 435.4 L383.9 438.2 L384.2 440.9 L384.6 443.6 L385 446.3" fill="none" stroke="#8a8a8a" stroke-width="1" />
<path d="M488.7 413.7 L488.4 416.4 L488 419.1 L487.7 421.9 L487.3 424.6 L487 427.3 L486.6 430 L486.3 432.7 L485.9 435.4 L485.5 438.2 L485.2 440.9 L484.8 443.6 L484.4 446.3" fill="none" stroke="#8a8a8a" stroke-width="1" />
<path d="M393.2 449.6 L385.9 451.3  L385.8 451.2 L386 449.5 L386.3 447.8 L386.5 446.1 L386.6 444.4 L386.8 442.6 L387 440.9 L387.1 439.1 L387.3 437.3 L387.5 435.6 L387.6 433.8 L387.8 432 L387.9 430.2 L388.1 428.4 L388.3 426.6 L388.5 424.8 L388.7 422.9 L388.9 421.1 L389.1 419.3 L389.4 417.5 L389.7 415.8 L390 414 L390.3 412.2 L390.7 410.4 L391.1 408.7 L391.5 406.9 L392 405.2 L392.5 403.5 L393 401.8 L393.6 400.1 L394.2 398.4 L394.9 396.8 L395.6 395.2 L396.4 393.6 L397.2 392 L398.1 390.5 L399 389 L400 387.5 L401 386.1 L402.1 384.7 L403.3 383.4 L404.5 382.1 L405.7 380.9 L407 379.8 L408.3 378.7 L409.8 377.6 L411.2 376.7 L412.7 375.8 L414.3 375 L415.9 374.3 L417.6 373.6 L419.3 373 L421 372.5 L422.8 372.1 L424.6 371.7 L426.4 371.4 L428.2 371.2 L430.1 371 L431.9 370.9 L433.8 370.9 L435.6 370.9 L437.5 371 L439.3 371.2 L441.1 371.4 L443 371.7 L444.7 372 L446.5 372.4 L448.3 372.9 L450 373.4 L451.7 374 L453.3 374.7 L455 375.4 L456.5 376.1 L458.1 377 L459.6 377.9 L461 378.8 L462.4 379.9 L463.8 381 L465 382.1 L466.3 383.3 L467.4 384.6 L468.5 385.9 L469.6 387.3 L470.5 388.7 L471.4 390.2 L472.3 391.7 L473.1 393.3 L473.8 394.9 L474.5 396.6 L475.2 398.3 L475.8 400 L476.3 401.7 L476.9 403.4 L477.3 405.2 L477.8 407 L478.2 408.8 L478.6 410.6 L479 412.4 L479.3 414.2 L479.6 415.9 L479.9 417.7 L480.2 419.5 L480.4 421.3 L480.7 423.1 L480.9 424.8 L481.1 426.6 L481.3 428.4 L481.5 430.1 L481.7 431.9 L481.9 433.7 L482 435.4 L482.2 437.2 L482.4 439 L482.5 440.7 L482.7 442.5 L482.8 444.2 L483 446 L483.2 447.7 L483.4 449.5 L483.6 451.2 L476.2 451.90000000000003" fill="none" stroke="#151515" stroke-width="2" />
<path d="M403.6 431.2 L403.4 429.9 L403.2 428.6 L403.1 427.3 L403 426 L403 424.6 L403 423.3 L403.1 421.9 L403.2 420.5 L403.3 419.2 L403.5 417.8 L403.8 416.4 L404 415 L404.3 413.7 L404.7 412.3 L405.1 410.9 L405.5 409.6 L406 408.3 L406.5 407 L407 405.7 L407.6 404.4 L408.2 403.2 L408.9 402 L409.6 400.8 L410.4 399.7 L411.2 398.6 L412 397.5 L412.9 396.5 L413.8 395.5 L414.8 394.6 L415.8 393.7 L416.9 392.9 L418 392.2 L419.2 391.5 L420.4 390.9 L421.7 390.3 L423 389.8 L424.3 389.4 L425.7 389 L427 388.7 L428.4 388.4 L429.9 388.2 L431.3 388 L432.7 388 L434.1 387.9 L435.5 388 L436.9 388 L438.3 388.2 L439.7 388.4 L441.1 388.6 L442.4 388.9 L443.7 389.3 L445 389.7 L446.3 390.1 L447.6 390.6 L448.8 391.2 L450 391.8 L451.2 392.5 L452.3 393.2 L453.4 393.9 L454.4 394.8 L455.5 395.6 L456.4 396.5 L457.4 397.5 L458.2 398.5 L459.1 399.5 L459.9 400.6 L460.6 401.8 L461.3 403 L461.9 404.2 L462.5 405.5 L463 406.8 L463.5 408.1 L464 409.4 L464.4 410.8 L464.7 412.2 L465.1 413.6 L465.4 415 L465.6 416.4 L465.9 417.8 L466 419.2 L466.2 420.6 L466.3 422 L466.4 423.4 L466.4 424.7 L466.4 426 L466.3 427.4 L466.2 428.7 L466 429.9 L465.8 431.2" fill="none" stroke="#8a8a8a" stroke-width="1" />
<path d="M395 450.5 L395 528.5 L405 528.5 L408.8 513.4 L435 514.6 L460.6 513.4 L464.4 528.5 L474.4 528.5 L474.4 450.5Z" fill="#e2e2e2" stroke="none" stroke-width="0" />
<rect x="404.4" y="431" width="60.6" height="27.8" fill="#cccccc" stroke="none"/><rect x="409" y="421.5" width="51.5" height="10" fill="#cccccc" stroke="none"/>
<path d="M404.5 431.2 L405.2 429.7 L406 428.2 L406.6 426.5 L407.2 424.9 L407.7 423.2 L408.3 421.5 L408.8 419.8 L409.3 418.1 L409.8 416.3 L410.3 414.6 L410.9 412.9 L411.5 411.2 L412.2 409.6 L412.9 408 L413.8 406.4 L414.7 404.9 L415.7 403.4 L416.9 402 L418.2 400.7 L419.5 399.5 L421 398.4 L422.5 397.3 L424.1 396.4 L425.7 395.6 L427.3 394.9 L429 394.3 L430.7 393.9 L432.4 393.6 L434.1 393.4 L435.8 393.4 L437.5 393.6 L439.1 393.9 L440.7 394.3 L442.3 394.9 L443.8 395.6 L445.3 396.4 L446.7 397.4 L448.1 398.4 L449.5 399.5 L450.8 400.8 L452 402.1 L453.1 403.4 L454.2 404.9 L455.3 406.4 L456.2 408 L457.1 409.6 L457.9 411.2 L458.7 412.9 L459.3 414.6 L459.9 416.3 L460.4 418 L460.9 419.8 L461.3 421.5 L461.8 423.2 L462.3 424.9 L462.8 426.5 L463.4 428.1 L464 429.7 L464.8 431.2 Z" fill="#c4c4c4" stroke="none" stroke-width="0" />
<clipPath id="opc"><path d="M404.5 431.2 L405.2 429.7 L406 428.2 L406.6 426.5 L407.2 424.9 L407.7 423.2 L408.3 421.5 L408.8 419.8 L409.3 418.1 L409.8 416.3 L410.3 414.6 L410.9 412.9 L411.5 411.2 L412.2 409.6 L412.9 408 L413.8 406.4 L414.7 404.9 L415.7 403.4 L416.9 402 L418.2 400.7 L419.5 399.5 L421 398.4 L422.5 397.3 L424.1 396.4 L425.7 395.6 L427.3 394.9 L429 394.3 L430.7 393.9 L432.4 393.6 L434.1 393.4 L435.8 393.4 L437.5 393.6 L439.1 393.9 L440.7 394.3 L442.3 394.9 L443.8 395.6 L445.3 396.4 L446.7 397.4 L448.1 398.4 L449.5 399.5 L450.8 400.8 L452 402.1 L453.1 403.4 L454.2 404.9 L455.3 406.4 L456.2 408 L457.1 409.6 L457.9 411.2 L458.7 412.9 L459.3 414.6 L459.9 416.3 L460.4 418 L460.9 419.8 L461.3 421.5 L461.8 423.2 L462.3 424.9 L462.8 426.5 L463.4 428.1 L464 429.7 L464.8 431.2 Z"/></clipPath>
<g clip-path="url(#opc)"><rect x="400" y="396.5" width="70" height="1.3" fill="#eeeeee"/><rect x="400" y="399.3" width="70" height="1.2" fill="#9a9a9a"/><rect x="400" y="401.8" width="70" height="1.8" fill="#f0f0f0"/><rect x="400" y="404.6" width="70" height="1.1" fill="#a8a8a8"/><rect x="400" y="406.5" width="70" height="2" fill="#e8e8e8"/></g>
<rect x="413.7" y="430.6" width="2.3" height="17.6" fill="#eeeeee" stroke="#1e1e1e" stroke-width="1.05"/><rect x="418.1" y="430.6" width="2.3" height="17.6" fill="#eeeeee" stroke="#1e1e1e" stroke-width="1.05"/><rect x="422.5" y="430.6" width="2.3" height="17.6" fill="#eeeeee" stroke="#1e1e1e" stroke-width="1.05"/><rect x="427" y="430.6" width="2.3" height="17.6" fill="#eeeeee" stroke="#1e1e1e" stroke-width="1.05"/><rect x="431.4" y="430.6" width="2.3" height="17.6" fill="#eeeeee" stroke="#1e1e1e" stroke-width="1.05"/><rect x="435.8" y="430.6" width="2.3" height="17.6" fill="#eeeeee" stroke="#1e1e1e" stroke-width="1.05"/><rect x="440.2" y="430.6" width="2.3" height="17.6" fill="#eeeeee" stroke="#1e1e1e" stroke-width="1.05"/><rect x="444.6" y="430.6" width="2.3" height="17.6" fill="#eeeeee" stroke="#1e1e1e" stroke-width="1.05"/><rect x="449.1" y="430.6" width="2.3" height="17.6" fill="#eeeeee" stroke="#1e1e1e" stroke-width="1.05"/><rect x="453.5" y="430.6" width="2.3" height="17.6" fill="#eeeeee" stroke="#1e1e1e" stroke-width="1.05"/>
<path d="M412 444.4 L458 444.4" fill="none" stroke="#222" stroke-width="1.2" />
<path d="M410 448.75 L459.5 448.75 L465 455.3 L404.4 455.3 Z" fill="#b4b4b4" stroke="none"/>
<rect x="404.4" y="455.3" width="60.6" height="3.5" fill="#a8a8a8"/>
<path d="M404.5 431.2 L405.2 429.7 L406 428.2 L406.6 426.5 L407.2 424.9 L407.7 423.2 L408.3 421.5 L408.8 419.8 L409.3 418.1 L409.8 416.3 L410.3 414.6 L410.9 412.9 L411.5 411.2 L412.2 409.6 L412.9 408 L413.8 406.4 L414.7 404.9 L415.7 403.4 L416.9 402 L418.2 400.7 L419.5 399.5 L421 398.4 L422.5 397.3 L424.1 396.4 L425.7 395.6 L427.3 394.9 L429 394.3 L430.7 393.9 L432.4 393.6 L434.1 393.4 L435.8 393.4 L437.5 393.6 L439.1 393.9 L440.7 394.3 L442.3 394.9 L443.8 395.6 L445.3 396.4 L446.7 397.4 L448.1 398.4 L449.5 399.5 L450.8 400.8 L452 402.1 L453.1 403.4 L454.2 404.9 L455.3 406.4 L456.2 408 L457.1 409.6 L457.9 411.2 L458.7 412.9 L459.3 414.6 L459.9 416.3 L460.4 418 L460.9 419.8 L461.3 421.5 L461.8 423.2 L462.3 424.9 L462.8 426.5 L463.4 428.1 L464 429.7 L464.8 431.2" fill="none" stroke="#151515" stroke-width="1.8" />
<path d="M413 409.2 L456 409.2" fill="none" stroke="#151515" stroke-width="1.4" />
<path d="M418.8 409.2 L418.8 422.1" fill="none" stroke="#151515" stroke-width="1.6" />
<path d="M450.7 409.2 L450.7 422.1" fill="none" stroke="#151515" stroke-width="1.6" />
<rect x="423.2" y="410.7" width="23.2" height="3.1" fill="#eeeeee" stroke="#666" stroke-width="0.8"/>
<path d="M409.2 422.1 L460.4 422.1" fill="none" stroke="#151515" stroke-width="1.4" />
<path d="M410 422.1 L410 448.8" fill="none" stroke="#151515" stroke-width="1.5" />
<path d="M459.5 422.1 L459.5 448.8" fill="none" stroke="#151515" stroke-width="1.5" />
<path d="M410 448.8 L459.5 448.8" fill="none" stroke="#151515" stroke-width="1.5" />
<path d="M410 448.8 L404.4 454.5" fill="none" stroke="#151515" stroke-width="1" />
<path d="M459.5 448.8 L465 454.5" fill="none" stroke="#151515" stroke-width="1" />
<path d="M404.4 455.3 L465 455.3" fill="none" stroke="#777" stroke-width="0.8" />
<path d="M393.1 432.4 L406.2 431.2 L406.2 442.9 L393.1 450.6 Z" fill="#c4c4c4" stroke="#151515" stroke-width="1.4"/><line x1="395.3" y1="433.2" x2="395.3" y2="448.3" stroke="#666" stroke-width="1"/><line x1="397.5" y1="433" x2="397.5" y2="447" stroke="#f2f2f2" stroke-width="1"/><line x1="399.7" y1="432.8" x2="399.7" y2="445.8" stroke="#666" stroke-width="1"/><line x1="401.9" y1="432.6" x2="401.9" y2="444.5" stroke="#f2f2f2" stroke-width="1"/><line x1="404.1" y1="432.4" x2="404.1" y2="443.2" stroke="#666" stroke-width="1"/>
<path d="M462.5 431.2 L475.6 432.4 L475.6 451.9 L462.5 442.9 Z" fill="#c4c4c4" stroke="#151515" stroke-width="1.4"/><line x1="464.7" y1="432.4" x2="464.7" y2="443.4" stroke="#666" stroke-width="1"/><line x1="466.9" y1="432.6" x2="466.9" y2="444.9" stroke="#f2f2f2" stroke-width="1"/><line x1="469.1" y1="432.8" x2="469.1" y2="446.4" stroke="#666" stroke-width="1"/><line x1="471.2" y1="433" x2="471.2" y2="447.9" stroke="#f2f2f2" stroke-width="1"/><line x1="473.4" y1="433.2" x2="473.4" y2="449.4" stroke="#666" stroke-width="1"/>
<path d="M404.1 431.2 L404.1 458.8 L465.2 458.8 L465.2 431.2" fill="none" stroke="#151515" stroke-width="2" />
<path d="M393.4 451.5 L395 458 L395 528.5 L405 528.5" fill="none" stroke="#151515" stroke-width="2" />
<path d="M476 451.5 L474.4 458 L474.4 528.5 L464.4 528.5" fill="none" stroke="#151515" stroke-width="2" />
<path d="M408.9 513.2 L405 528.5 L415.3 573.5 Q416 575.2 418 575.6 Q434.7 578.6 451.4 575.6 Q453.4 575.2 454.1 573.5 L464.4 528.5 L460.5 513.2 Q434.7 516.2 408.9 513.2 Z" fill="#e2e2e2" stroke="none" stroke-width="0" />
<path d="M408.9 513.2 L405 528.5 L415.3 573.5 Q416 575.2 418 575.6 Q434.7 578.6 451.4 575.6 Q453.4 575.2 454.1 573.5 L464.4 528.5 L460.5 513.2" fill="none" stroke="#151515" stroke-width="2.05" />
<path d="M408.9 513.2 Q434.7 516.2 460.5 513.2" fill="none" stroke="#151515" stroke-width="2.1" />
<path d="M410.6 520 L419 561.3 L416.8 572" fill="none" stroke="#8a8a8a" stroke-width="0.9" />
<path d="M458.8 520 L450.4 561.3 L452.6 572" fill="none" stroke="#8a8a8a" stroke-width="0.9" />
<path d="M419 561 Q434.7 564 450.4 561" fill="none" stroke="#8a8a8a" stroke-width="0.9" />
<path d="M399.8 468.5 L415.5 485" fill="none" stroke="#333" stroke-width="1.15" />
<path d="M469.6 468.5 L453.9 485" fill="none" stroke="#333" stroke-width="1.15" />
<path d="M399.6 462 L398.8 500 L397 527" fill="none" stroke="#8a8a8a" stroke-width="0.9" />
<path d="M469.8 462 L470.6 500 L472.4 527" fill="none" stroke="#8a8a8a" stroke-width="0.9" />
<path d="M415 486.9 L415 496.2 L405 500 L402.5 510 L398.8 526.2" fill="none" stroke="#8a8a8a" stroke-width="0.9" />
<path d="M454.4 486.9 L454.4 496.2 L464.4 500 L466.9 510 L470.6 526.2" fill="none" stroke="#8a8a8a" stroke-width="0.9" />
<path d="M402.5 509.4 L426.2 509.4 L430 495.6 L439.4 495.6 L443.1 509.4 L466.9 509.4" fill="none" stroke="#8a8a8a" stroke-width="0.9" />
<path d="M400.6 481.9 L415 486.2" fill="none" stroke="#8a8a8a" stroke-width="0.9" />
<path d="M468.8 481.9 L454.4 486.2" fill="none" stroke="#8a8a8a" stroke-width="0.9" />
<path d="M416.9 476.25 L420 476.25 L420 474 L449.4 474 L449.4 476.25 L452.5 476.25 L452.5 485 C452.5 490 447 493 442.5 493.1 L427 493.1 C422.5 493 416.9 490 416.9 485 Z" fill="#e8e8e8" stroke="none" stroke-width="0" />
<path d="M427.5 493.1 C422.5 493 416.9 490 416.9 485 L416.9 476.25 L420 476.25 L420 474 L449.4 474 L449.4 476.25 L452.5 476.25 L452.5 485 C452.5 490 447 493 442 493.1" fill="none" stroke="#151515" stroke-width="1.8" />
<path d="M428 489 L441.5 489" fill="none" stroke="#555" stroke-width="0.9" stroke-dasharray="4 1.5"/>
<path d="M427.5 474 L427.5 493" fill="none" stroke="#151515" stroke-width="1.6" />
<path d="M442 474 L442 493" fill="none" stroke="#151515" stroke-width="1.6" />
<path d="M427.5 480.5 L442 480.5" fill="none" stroke="#151515" stroke-width="1.5" />
<path d="M417.5 479 C418.2 479.5 420.3 481.3 422 482 C423.7 482.7 426.6 482.8 427.5 483" fill="none" stroke="#8a8a8a" stroke-width="0.8" />
<path d="M452 479 C451.2 479.5 449.2 481.3 447.5 482 C445.8 482.7 442.9 482.8 442 483" fill="none" stroke="#8a8a8a" stroke-width="0.8" />
<path d="M435.3 586.3 L447.8 600.8 L442.5 600.8 L442.5 625.5 L427.8 625.5 L427.8 600.8 L422.8 600.8 Z" fill="#151515" stroke="#151515" stroke-width="3.8" />
<path d="M435.3 586.3 L447.8 600.8 L442.5 600.8 L442.5 625.5 L427.8 625.5 L427.8 600.8 L422.8 600.8 Z" fill="#fff" stroke="none" stroke-width="0" />
<path d="M435.3 587.9 L445.6 599.8 L441.5 599.8 L441.5 625.5 L428.8 625.5 L428.8 599.8 L425 599.8 Z" fill="url(#ag)" stroke="none" stroke-width="0" />
<path d="M420.6 640.5 L420.6 629.5 Q420.6 626.9 423.2 626.9 L448 626.9 Q450.6 626.9 450.6 629.5 L450.6 640.5" fill="#fff" stroke="#151515" stroke-width="2.3" />
<path d="M407.5 650 L407.5 637.5 Q407.5 633.75 411.5 633.75 L420.6 633.75 M450.6 633.75 L459.75 633.75 Q463.75 633.75 463.75 637.5 L463.75 650" fill="none" stroke="#151515" stroke-width="2.3" />
<path d="M420.6 633.8 L420.6 640.6 L427.5 640.6" fill="none" stroke="#151515" stroke-width="1.6" />
<path d="M450.6 633.8 L450.6 640.6 L443.1 640.6" fill="none" stroke="#151515" stroke-width="1.6" />
<path d="M427.5 630 L427.5 645 Q427.5 647 429.5 647 L441.1 647 Q443.1 647 443.1 645 L443.1 630" fill="none" stroke="#151515" stroke-width="1.8" />
<path d="M421 634.4 L427.5 634.4" fill="none" stroke="#b0b0b0" stroke-width="1" />
<path d="M443.1 634.4 L450.2 634.4" fill="none" stroke="#b0b0b0" stroke-width="1" />
<path d="M428.5 642.2 L442 642.2" fill="none" stroke="#b0b0b0" stroke-width="1" stroke-dasharray="5 2"/>
<path d="M398.9 663 L398.9 659 Q398.9 650.5 407.6 650.5 L420.5 650.5 L420.5 662.5 M450.5 662.5 L450.5 650.5 L463.3 650.5 Q472.2 650.5 472.2 659 L472.2 663" fill="none" stroke="#151515" stroke-width="2.3" />
<path d="M409.5 730.3 C404.3 729.6 398 724 396.5 716 L394.6 672 Q394.6 662.8 404 662.8 L466.6 662.8 Q476.2 662.8 476.2 672 L474.5 716 C473 724 466.6 729.6 461.7 730.3" fill="none" stroke="#151515" stroke-width="2.4" />
<path d="M395.6 682 Q395.8 669.3 405.5 669.3 L465.5 669.3 Q475.2 669.3 475.2 682" fill="none" stroke="#151515" stroke-width="2.3" />
<path d="M395.3 674 Q395.8 665.4 404.5 665.4 L466.5 665.4 Q475.2 665.4 475.4 674" fill="none" stroke="#999" stroke-width="1" />
<path d="M397.9 700 L397.9 682 Q398.2 672.2 407 672.2 L464 672.2 Q472.9 672.2 473.2 682 L473.2 700" fill="none" stroke="#b0b0b0" stroke-width="1" />
<path d="M398.8 678.8 L428.8 692.5" fill="none" stroke="#8a8a8a" stroke-width="1" />
<path d="M472.5 678.8 L441.2 692.5" fill="none" stroke="#8a8a8a" stroke-width="1" />
<path d="M397.8 680 L398.5 716" fill="none" stroke="#b0b0b0" stroke-width="1" />
<path d="M473.2 680 L472.5 716" fill="none" stroke="#b0b0b0" stroke-width="1" />
<path d="M409.8 722 C410.5 703 421 692 434.7 692 C448.4 692 459 703 459.6 722" fill="none" stroke="#8a8a8a" stroke-width="1" />
<path d="M409.5 711.6 C409.4 714.8 408.5 720 408.6 730.9 C408.7 741.8 409.7 763.1 410.1 777.3 C410.5 791.5 410.8 808 411 816 C411.2 824 410.6 822.3 411.2 825.3 C411.8 828.3 413.1 831.7 414.7 834.2 C416.3 836.7 419.7 839.1 420.7 840.1" fill="none" stroke="#151515" stroke-width="2.4" />
<path d="M459.9 711.6 C460 714.8 460.9 720 460.8 730.9 C460.7 741.8 459.7 763.1 459.3 777.3 C458.9 791.5 458.6 808 458.4 816 C458.2 824 458.8 822.3 458.2 825.3 C457.6 828.3 456.3 831.7 454.7 834.2 C453.1 836.7 449.7 839.1 448.7 840.1" fill="none" stroke="#151515" stroke-width="2.4" />
<g><path d="M410.7 722.6 C411.6 716.6 420 710.7 426 710.6 C427.9 710.7 427.9 713.7 425.8 713.8 C420.5 714.6 413.8 718.1 412.6 724.1" fill="none" stroke="#7a7a7a" stroke-width="1.05"/><path d="M410.7 730.1 C411.6 724.1 420.1 718.2 426.1 718.1 C428 718.2 428 721.2 425.9 721.3 C420.6 722.1 413.8 725.6 412.6 731.6" fill="none" stroke="#7a7a7a" stroke-width="1.05"/><path d="M410.7 737.6 C411.6 731.6 420.3 725.7 426.3 725.6 C428.2 725.7 428.2 728.7 426.1 728.8 C420.8 729.6 413.8 733.1 412.6 739.1" fill="none" stroke="#7a7a7a" stroke-width="1.05"/><path d="M410.7 745 C411.6 739 420.4 733.1 426.4 733 C428.3 733.1 428.3 736.1 426.2 736.2 C420.9 737 413.8 740.5 412.6 746.5" fill="none" stroke="#7a7a7a" stroke-width="1.05"/><path d="M410.7 752.5 C411.6 746.5 420.6 740.6 426.6 740.5 C428.5 740.6 428.5 743.6 426.4 743.7 C421.1 744.5 413.8 748 412.6 754" fill="none" stroke="#7a7a7a" stroke-width="1.05"/><path d="M410.7 760 C411.6 754 420.8 748.1 426.8 748 C428.6 748.1 428.6 751.1 426.6 751.2 C421.2 752 413.8 755.5 412.6 761.5" fill="none" stroke="#7a7a7a" stroke-width="1.05"/><path d="M410.7 767.5 C411.6 761.5 420.9 755.6 426.9 755.5 C428.8 755.6 428.8 758.6 426.7 758.7 C421.4 759.5 413.8 763 412.6 769" fill="none" stroke="#7a7a7a" stroke-width="1.05"/><path d="M410.7 775 C411.6 769 421.1 763.1 427.1 763 C428.9 763.1 428.9 766.1 426.9 766.2 C421.6 767 413.8 770.5 412.6 776.5" fill="none" stroke="#7a7a7a" stroke-width="1.05"/><path d="M410.7 782.4 C411.6 776.4 421.2 770.5 427.2 770.4 C429.1 770.5 429.1 773.5 427 773.6 C421.7 774.4 413.8 777.9 412.6 783.9" fill="none" stroke="#7a7a7a" stroke-width="1.05"/><path d="M410.7 789.9 C411.6 783.9 421.4 778 427.4 777.9 C429.2 778 429.2 781 427.2 781.1 C421.9 781.9 413.8 785.4 412.6 791.4" fill="none" stroke="#7a7a7a" stroke-width="1.05"/><path d="M410.7 797.4 C411.6 791.4 421.5 785.5 427.5 785.4 C429.4 785.5 429.4 788.5 427.3 788.6 C422 789.4 413.8 792.9 412.6 798.9" fill="none" stroke="#7a7a7a" stroke-width="1.05"/><path d="M410.7 804.9 C411.6 798.9 421.6 793 427.6 792.9 C429.5 793 429.5 796 427.4 796.1 C422.1 796.9 413.8 800.4 412.6 806.4" fill="none" stroke="#7a7a7a" stroke-width="1.05"/></g>
<g transform="translate(869.4 0) scale(-1 1)"><path d="M410.7 722.6 C411.6 716.6 420 710.7 426 710.6 C427.9 710.7 427.9 713.7 425.8 713.8 C420.5 714.6 413.8 718.1 412.6 724.1" fill="none" stroke="#7a7a7a" stroke-width="1.05"/><path d="M410.7 730.1 C411.6 724.1 420.1 718.2 426.1 718.1 C428 718.2 428 721.2 425.9 721.3 C420.6 722.1 413.8 725.6 412.6 731.6" fill="none" stroke="#7a7a7a" stroke-width="1.05"/><path d="M410.7 737.6 C411.6 731.6 420.3 725.7 426.3 725.6 C428.2 725.7 428.2 728.7 426.1 728.8 C420.8 729.6 413.8 733.1 412.6 739.1" fill="none" stroke="#7a7a7a" stroke-width="1.05"/><path d="M410.7 745 C411.6 739 420.4 733.1 426.4 733 C428.3 733.1 428.3 736.1 426.2 736.2 C420.9 737 413.8 740.5 412.6 746.5" fill="none" stroke="#7a7a7a" stroke-width="1.05"/><path d="M410.7 752.5 C411.6 746.5 420.6 740.6 426.6 740.5 C428.5 740.6 428.5 743.6 426.4 743.7 C421.1 744.5 413.8 748 412.6 754" fill="none" stroke="#7a7a7a" stroke-width="1.05"/><path d="M410.7 760 C411.6 754 420.8 748.1 426.8 748 C428.6 748.1 428.6 751.1 426.6 751.2 C421.2 752 413.8 755.5 412.6 761.5" fill="none" stroke="#7a7a7a" stroke-width="1.05"/><path d="M410.7 767.5 C411.6 761.5 420.9 755.6 426.9 755.5 C428.8 755.6 428.8 758.6 426.7 758.7 C421.4 759.5 413.8 763 412.6 769" fill="none" stroke="#7a7a7a" stroke-width="1.05"/><path d="M410.7 775 C411.6 769 421.1 763.1 427.1 763 C428.9 763.1 428.9 766.1 426.9 766.2 C421.6 767 413.8 770.5 412.6 776.5" fill="none" stroke="#7a7a7a" stroke-width="1.05"/><path d="M410.7 782.4 C411.6 776.4 421.2 770.5 427.2 770.4 C429.1 770.5 429.1 773.5 427 773.6 C421.7 774.4 413.8 777.9 412.6 783.9" fill="none" stroke="#7a7a7a" stroke-width="1.05"/><path d="M410.7 789.9 C411.6 783.9 421.4 778 427.4 777.9 C429.2 778 429.2 781 427.2 781.1 C421.9 781.9 413.8 785.4 412.6 791.4" fill="none" stroke="#7a7a7a" stroke-width="1.05"/><path d="M410.7 797.4 C411.6 791.4 421.5 785.5 427.5 785.4 C429.4 785.5 429.4 788.5 427.3 788.6 C422 789.4 413.8 792.9 412.6 798.9" fill="none" stroke="#7a7a7a" stroke-width="1.05"/><path d="M410.7 804.9 C411.6 798.9 421.6 793 427.6 792.9 C429.5 793 429.5 796 427.4 796.1 C422.1 796.9 413.8 800.4 412.6 806.4" fill="none" stroke="#7a7a7a" stroke-width="1.05"/></g>
<path d="M413.2 816.3 C414.7 814.6 418.4 808.3 422 806 C425.6 803.7 430.5 802.6 434.7 802.6 C438.9 802.6 443.8 803.7 447.4 806 C451 808.3 454.7 814.6 456.2 816.3" fill="none" stroke="#8a8a8a" stroke-width="1" />
<path d="M421.4 929 L421.4 822.3 C421.4 815 427 811.1 434.7 811.1 C442.4 811.1 448.6 815 448.6 822.3 L448.6 929" fill="none" stroke="#151515" stroke-width="2.3" />
<path d="M421.4 929 Q421.6 930.5 424 930" fill="none" stroke="#151515" stroke-width="1.6" />
<path d="M448.6 929 Q448.4 930.5 446 930" fill="none" stroke="#151515" stroke-width="1.6" />
<path d="M288.1 337.6 L393.6 382.3" fill="none" stroke="#151515" stroke-width="1.3" />
<path d="M286.1 518.4 L405 444.1" fill="none" stroke="#151515" stroke-width="1.3" />
<path d="M465 416.5 L594.1 468.4" fill="none" stroke="#151515" stroke-width="1.3" />
<path d="M461.9 451.3 L594.1 519.9" fill="none" stroke="#151515" stroke-width="1.3" />
<path d="M288.1 750.3 L394 671.6" fill="none" stroke="#151515" stroke-width="1.3" />
</svg>
</body></html>
